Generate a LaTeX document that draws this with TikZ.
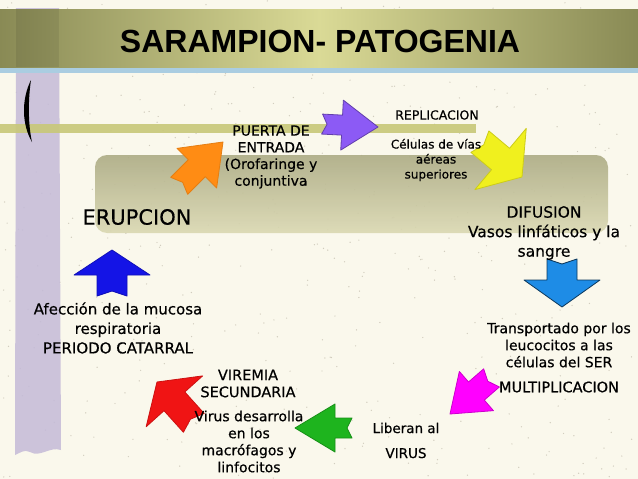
\documentclass[tikz,border=0pt]{standalone}
\usepackage{fontspec}
\setmainfont{DejaVu Sans}[BoldFont={DejaVu Sans}, BoldFeatures={FakeBold=0.5}]
\newfontfamily\titlefont{Liberation Sans}
\usepackage{tikz}
\usetikzlibrary{positioning}

\definecolor{paper}{RGB}{250,248,236}
\definecolor{speck}{RGB}{210,205,190}
\definecolor{oliveDark}{RGB}{137,138,85}
\definecolor{oliveLight}{RGB}{218,218,150}
\definecolor{bandLine}{RGB}{170,205,225}
\definecolor{lavender}{RGB}{196,186,216}
\definecolor{oliveBar}{RGB}{200,200,120}
\definecolor{boxTop}{RGB}{172,171,132}
\definecolor{boxBottom}{RGB}{218,216,178}
\definecolor{arrPurple}{RGB}{140,90,245}
\definecolor{arrOrange}{RGB}{255,140,20}
\definecolor{arrYellow}{RGB}{240,240,30}
\definecolor{arrBlue}{RGB}{20,20,230}
\definecolor{arrSky}{RGB}{30,140,230}
\definecolor{arrMagenta}{RGB}{255,0,255}
\definecolor{arrGreen}{RGB}{30,180,30}
\definecolor{arrRed}{RGB}{240,20,20}

% tip, angle, length, head length, head half width, shaft half width, fill, border
\newcommand{\blockarrow}[8]{%
  \filldraw[fill=#7, draw=#8, line width=0.8pt, line join=round, shift={#1}, rotate=#2]
    (0,0) -- (-#4,#5) -- (-#4,#6) -- (-#3,#6) -- (-#3+5,0) -- (-#3,-#6) -- (-#4,-#6) -- (-#4,-#5) -- cycle;}

\begin{document}
\begin{tikzpicture}[x=1pt, y=-1pt,
    lbl/.style={align=center, inner sep=0pt, text=black},
    small/.style={lbl, font=\bfseries\fontsize{12}{15}\selectfont},
    mid/.style={lbl, font=\bfseries\fontsize{14}{17}\selectfont},
    big/.style={lbl, font=\bfseries\fontsize{15}{19.5}\selectfont}]

    % background
    \fill[paper] (0,0) rectangle (638,479);
    \useasboundingbox (0,0) rectangle (638,479);
    \pgfmathsetseed{11}
    \foreach \i in {1,...,500}
        \fill[speck] ({rnd*638},{rnd*479}) circle[radius=0.7];

    % side bar under the title band
    \fill[lavender, opacity=0.85] (16,8) -- (59,8) -- (61,450)
        .. controls (50,446) and (40,458) .. (30,452)
        .. controls (24,449) and (20,453) .. (15,455) -- cycle;

    % title band
    \shade[left color=oliveDark, right color=oliveDark, middle color=oliveLight] (0,9) rectangle (638,67);
    \fill[black, opacity=0.08] (16,9) rectangle (59,67);
    \fill[bandLine] (0,68) rectangle (638,73);
    \node[font=\titlefont\bfseries\fontsize{32}{32}\selectfont, inner sep=0pt] (title) at (320,41) {SARAMPION- PATOGENIA};

    % line and box
    \fill[oliveBar, opacity=0.9] (0,124) rectangle (476,133);
    \shade[top color=boxTop, bottom color=boxBottom, rounded corners=12, opacity=0.9] (95,155) rectangle (608,233);
    \fill[black] (31,80) .. controls (21,100) and (22,125) .. (32,142)
        .. controls (28,124) and (28,100) .. (31,80);

    % arrows of the cycle
    \blockarrow{(378,127)}{-3}{56}{36}{25}{10}{arrPurple}{arrPurple!70!black}
    \blockarrow{(522,177)}{-40}{55}{28}{40}{14}{arrYellow}{arrYellow!85!black}
    \blockarrow{(562,307)}{-90}{48}{27}{38}{15}{arrSky}{arrSky!40!black}
    \blockarrow{(450,414)}{-139}{55}{35}{26}{12}{arrMagenta}{arrMagenta!80!black}
    \blockarrow{(295,428)}{180}{57}{40}{24}{10}{arrGreen}{arrGreen!80!black}
    \blockarrow{(157,382)}{132}{55}{26}{38}{14}{arrRed}{arrRed!85!black}
    \blockarrow{(112,250)}{90}{46}{25}{38}{15}{arrBlue}{arrBlue!80!black}
    \blockarrow{(223,142)}{45}{62}{37}{28}{12}{arrOrange}{arrOrange!90!black}

    % texts
    \node[lbl, font=\bfseries\fontsize{12.5}{15}\selectfont] (replica) at (437,115) {REPLICACION};
    \node[small] (celulas) at (436,160) {Células de vías\\aéreas\\superiores};
    \node[lbl, font=\bfseries\fontsize{14}{16.7}\selectfont] (puerta) at (271,157) {PUERTA DE\\ENTRADA\\(Orofaringe y\\conjuntiva};
    \node[lbl, font=\bfseries\fontsize{21}{24}\selectfont] (erupcion) at (137,217) {ERUPCION};
    \node[lbl, font=\bfseries\fontsize{15.5}{19.5}\selectfont] (difusion) at (544,233) {DIFUSION\\Vasos linfáticos y la\\sangre};
    \node[big] (afeccion) at (118,328) {Afección de la mucosa\\respiratoria\\PERIODO CATARRAL};
    \node[lbl, font=\bfseries\fontsize{14.5}{17}\selectfont] (viremia) at (248,383.5) {VIREMIA\\SECUNDARIA};
    \node[mid] (virus) at (249,441.5) {Virus desarrolla\\en los\\macrófagos y\\linfocitos};
    \node[mid] (transp) at (559,345) {Transportado por los\\leucocitos a las\\células del SER};
    \node[lbl, font=\bfseries\fontsize{14.5}{17}\selectfont] (multi) at (559,387) {MULTIPLICACION};
    \node[lbl, font=\bfseries\fontsize{13.5}{25}\selectfont] (liberan) at (406,440.5) {Liberan al\\VIRUS};
\end{tikzpicture}
\end{document}
